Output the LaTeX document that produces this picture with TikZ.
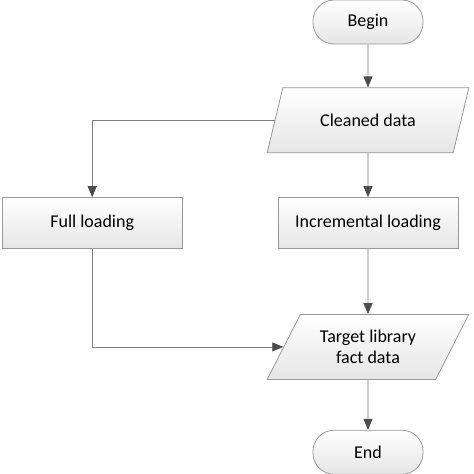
\documentclass[tikz,border=0pt]{standalone}
\usepackage{fontspec}
\setmainfont{Carlito}
\usetikzlibrary{positioning}
\usetikzlibrary{shapes.geometric}
\usetikzlibrary{arrows.meta}

\begin{document}
\begin{tikzpicture}
        [x=1pt, y=-1pt,
         box/.style={draw=black!40, line width=0.8pt, top color=white, bottom color=black!10,
           font=\fontsize{18}{21}\selectfont, minimum width=180pt, minimum height=51pt,
           inner sep=0pt, align=center},
         terminal/.style={box, rounded corners=21pt, minimum width=110pt, minimum height=44pt},
         iodata/.style={box, trapezium, trapezium left angle=55, trapezium right angle=125,
           trapezium stretches=true, minimum width=202pt, minimum height=65pt},
         flow/.style={draw=black!50, line width=0.8pt,
           -{Triangle[length=11pt,width=9pt,color=black!70]}}]
      \useasboundingbox (0,0) rectangle (474,474);
      \node[terminal] (begin) at (368,22) {Begin};
      \node[iodata]   (clean)  [below=43pt of begin] {Cleaned data};
      \node[box]      (incr)   [below=44pt of clean] {Incremental loading};
      \node[box]      (full)   [left=95pt of incr]   {Full loading};
      \node[iodata]   (target) [below=65pt of incr]  {Target library\\fact data};
      \node[terminal] (end)    [below=50pt of target] {End};
      \draw[flow] (begin) -- (clean);
      \draw[flow] (clean) -- (incr);
      \draw[flow] (clean.west) -| (full);
      \draw[flow] (incr) -- (target);
      \draw[flow] (full) |- (target.west);
      \draw[flow] (target) -- (end);
      \end{tikzpicture}
\end{document}
